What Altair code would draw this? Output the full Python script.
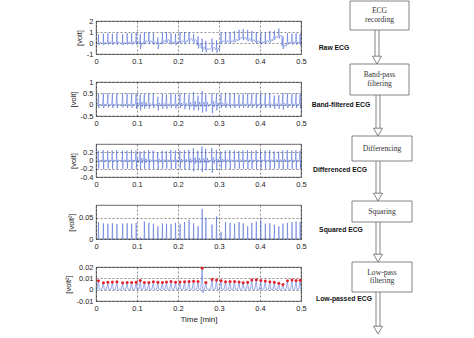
import altair as alt
import pandas as pd

# ---------------- data ----------------
beat_t = [0.006, 0.018, 0.029, 0.040, 0.051, 0.065, 0.076, 0.087, 0.098, 0.108,
          0.118, 0.129, 0.140, 0.151, 0.162, 0.172, 0.183, 0.194, 0.205, 0.216,
          0.227, 0.238, 0.249, 0.259, 0.268, 0.283, 0.294, 0.305, 0.316, 0.327,
          0.338, 0.349, 0.359, 0.370, 0.380, 0.391, 0.402, 0.413, 0.424, 0.435,
          0.446, 0.456, 0.467, 0.478, 0.488, 0.498]

raw_base = [-0.05, -0.05, 0.00, -0.02, 0.00, -0.05, 0.00, 0.00, 0.05, -0.10,
            0.10, 0.10, 0.00, -0.10, 0.10, 0.20, 0.00, 0.00, 0.10, 0.10,
            0.30, 0.20, -0.20, -0.50, -0.60, -0.50, -0.60, 0.10, 0.10, 0.10,
            0.20, 0.40, 0.40, 0.30, 0.20, 0.10, 0.00, 0.10, 0.20, 0.50,
            0.60, -0.30, 0.00, 0.00, 0.00, -0.05]
raw_peak = [0.85, 0.90, 0.90, 0.85, 0.90, 0.85, 0.90, 0.90, 0.90, 0.90,
            0.85, 0.90, 0.90, 0.60, 0.85, 0.80, 0.90, 0.85, 0.90, 0.90,
            0.70, 0.60, 0.80, 0.90, 0.80, 0.90, 0.85, 0.85, 0.90, 0.90,
            0.90, 0.80, 0.85, 0.90, 0.90, 0.90, 0.90, 0.85, 0.90, 0.60,
            0.70, 0.90, 0.90, 0.85, 0.90, 0.90]
raw_trough = [-0.15, -0.15, -0.15, -0.15, -0.15, -0.15, -0.15, -0.15, -0.20, -0.45,
              -0.20, -0.20, -0.15, -0.45, -0.20, -0.20, -0.15, -0.20, -0.15, -0.20,
              -0.25, -0.20, -0.30, -0.30, -0.25, -0.30, -0.30, -0.15, -0.15, -0.15,
              -0.15, -0.15, -0.15, -0.15, -0.15, -0.15, -0.15, -0.15, -0.15, -0.20,
              -0.20, -0.25, -0.15, -0.15, -0.15, -0.15]

bp_peak = [0.48, 0.50, 0.50, 0.48, 0.50, 0.48, 0.50, 0.50, 0.50, 0.45,
           0.48, 0.50, 0.50, 0.35, 0.48, 0.45, 0.50, 0.48, 0.50, 0.50,
           0.45, 0.55, 0.40, 0.60, 0.45, 0.50, 0.48, 0.45, 0.50, 0.50,
           0.50, 0.45, 0.48, 0.50, 0.50, 0.50, 0.50, 0.48, 0.50, 0.40,
           0.42, 0.50, 0.50, 0.48, 0.50, 0.50]
bp_trough = [-0.15, -0.15, -0.12, -0.15, -0.15, -0.12, -0.15, -0.15, -0.18, -0.25,
             -0.18, -0.18, -0.15, -0.25, -0.18, -0.18, -0.15, -0.18, -0.15, -0.20,
             -0.22, -0.25, -0.25, -0.35, -0.30, -0.38, -0.25, -0.15, -0.15, -0.15,
             -0.15, -0.15, -0.15, -0.15, -0.15, -0.15, -0.15, -0.15, -0.15, -0.18,
             -0.18, -0.22, -0.15, -0.15, -0.15, -0.15]
bp_mid = [0.03, 0.03, 0.03, 0.03, 0.03, 0.03, 0.03, 0.03, 0.10, 0.12,
          0.10, 0.05, 0.03, 0.08, 0.05, 0.04, 0.03, 0.04, 0.08, 0.06,
          0.10, 0.15, 0.12, 0.10, 0.12, 0.15, 0.08, 0.08, 0.05, 0.03,
          0.03, 0.04, 0.03, 0.03, 0.03, 0.03, 0.03, 0.03, 0.04, 0.05,
          0.04, 0.06, 0.03, 0.03, 0.03, 0.03]

diff_hi = [0.24, 0.25, 0.24, 0.24, 0.25, 0.24, 0.24, 0.25, 0.24, 0.22,
           0.24, 0.25, 0.24, 0.20, 0.24, 0.23, 0.25, 0.24, 0.24, 0.25,
           0.26, 0.30, 0.24, 0.34, 0.28, 0.30, 0.26, 0.22, 0.24, 0.25,
           0.24, 0.23, 0.24, 0.25, 0.24, 0.25, 0.24, 0.24, 0.25, 0.22,
           0.22, 0.24, 0.25, 0.24, 0.25, 0.24]
diff_lo = [-0.20, -0.21, -0.20, -0.20, -0.21, -0.20, -0.20, -0.21, -0.20, -0.22,
           -0.20, -0.21, -0.20, -0.22, -0.20, -0.20, -0.21, -0.20, -0.20, -0.21,
           -0.22, -0.26, -0.22, -0.28, -0.24, -0.30, -0.22, -0.20, -0.20, -0.21,
           -0.20, -0.20, -0.20, -0.21, -0.20, -0.21, -0.20, -0.20, -0.21, -0.20,
           -0.20, -0.22, -0.21, -0.20, -0.21, -0.20]

sq_peak = [0.040, 0.037, 0.036, 0.037, 0.035, 0.036, 0.037, 0.036, 0.038, 0.004,
           0.041, 0.038, 0.036, 0.030, 0.037, 0.036, 0.035, 0.038, 0.036, 0.040,
           0.045, 0.037, 0.030, 0.071, 0.050, 0.034, 0.053, 0.017, 0.040, 0.038,
           0.036, 0.040, 0.037, 0.030, 0.038, 0.041, 0.044, 0.036, 0.037, 0.034,
           0.030, 0.036, 0.038, 0.040, 0.041, 0.040]

lp_peak = [0.0078, 0.0062, 0.0065, 0.0068, 0.0069, 0.0060, 0.0063, 0.0064, 0.0065, 0.0080,
           0.0064, 0.0063, 0.0070, 0.0066, 0.0063, 0.0068, 0.0072, 0.0066, 0.0068, 0.0070,
           0.0072, 0.0075, 0.0071, 0.0190, 0.0063, 0.0090, 0.0085, 0.0078, 0.0070, 0.0072,
           0.0073, 0.0068, 0.0060, 0.0065, 0.0085, 0.0088, 0.0080, 0.0076, 0.0070, 0.0066,
           0.0056, 0.0045, 0.0078, 0.0085, 0.0080, 0.0082]
lp_low = [0.0003] * 23 + [-0.0030] + [0.0003] * 22

x_ticks = [0, 0.1, 0.2, 0.3, 0.4, 0.5]

box_lines = [["ECG", "recording"], ["Band-pass", "filtering"], ["Differencing"],
             ["Squaring"], ["Low-pass", "filtering"]]
stage_labels = ["Raw ECG", "Band-filtered ECG", "Differenced ECG", "Squared ECG",
                "Low-passed ECG"]

# ---------------- building the traces ----------------
def build(seqs):
    rows = []
    for seq in seqs:
        for t, v in seq:
            rows.append({"t": t, "v": v, "k": len(rows)})
    return pd.DataFrame(rows)

raw_df = build([[(t - 0.0025, b), (t - 0.0008, b + 0.05), (t, b + p), (t + 0.0008, b + q),
                 (t + 0.0025, b), (t + 0.005, b + 0.12), (t + 0.0075, b)]
                for t, b, p, q in zip(beat_t, raw_base, raw_peak, raw_trough)])
bp_df = build([[(t - 0.002, 0), (t, p), (t + 0.0008, q), (t + 0.002, 0),
                (t + 0.004, m), (t + 0.0055, -0.7 * m), (t + 0.007, 0)]
               for t, p, q, m in zip(beat_t, bp_peak, bp_trough, bp_mid)])
diff_df = build([[(t - 0.0015, 0), (t - 0.0005, h), (t + 0.0005, l), (t + 0.0015, 0),
                  (t + 0.004, 0.5 * m), (t + 0.005, -0.5 * m), (t + 0.006, 0)]
                 for t, h, l, m in zip(beat_t, diff_hi, diff_lo, bp_mid)])
sq_df = build([[(t - 0.0008, 0), (t, s), (t + 0.0008, 0)] for t, s in zip(beat_t, sq_peak)])
lp_df = build([[(t - 0.0035, 0.0003), (t, p), (t + 0.002, lo), (t + 0.004, 0.0003)]
               for t, p, lo in zip(beat_t, lp_peak, lp_low)])
dots_df = pd.DataFrame({"t": beat_t, "v": lp_peak})

BLUE = "#3a5bd0"
W = 205


def enc_x(xtitle=None):
    return alt.X("t:Q", scale=alt.Scale(domain=[0, 0.5], nice=False, zero=False),
                 axis=alt.Axis(values=x_ticks, title=xtitle, labelFlush=False,
                               labelOverlap=False, format="~g"))


def enc_y(ydom, yticks, ytitle):
    return alt.Y("v:Q", scale=alt.Scale(domain=ydom, nice=False, zero=False),
                 axis=alt.Axis(values=yticks, title=ytitle, labelOverlap=False,
                               format="~g"))


def panel(df, ydom, yticks, ytitle, xtitle=None):
    return alt.Chart(df).mark_line(color=BLUE, strokeWidth=0.5, clip=True).encode(
        x=enc_x(xtitle), y=enc_y(ydom, yticks, ytitle), order="k:Q")

# ---------------- flow diagram (pixel layout, relative to panel 1 origin) ----------------
OX, OY = 96, 20
box_x = [(350, 409), (350, 409), (352, 412), (352, 412), (352, 412)]
box_y = [(0, 29), (63, 94), (135, 160), (200, 221), (261, 291)]
arrows = [(377, 29, 63), (378, 94, 135), (378, 160, 200), (378, 221, 261), (378, 291, 333)]
label_pos = [(334, 47), (341, 104), (340, 169), (341, 229), (344, 298)]

box_df = pd.DataFrame({"x": [a - OX for a, b in box_x], "x2": [b - OX for a, b in box_x],
                       "y": [a - OY for a, b in box_y], "y2": [b - OY for a, b in box_y]})
btxt = []
for (xa, xb), (ya, yb), lines in zip(box_x, box_y, box_lines):
    cx, cy = (xa + xb) / 2, (ya + yb) / 2
    n = len(lines)
    for j, s in enumerate(lines):
        btxt.append({"x": cx - OX, "y": cy + (j - (n - 1) / 2) * 8.5 - OY, "s": s})
btxt_df = pd.DataFrame(btxt)
shaft_df = pd.DataFrame([{"x": cx + d - OX, "y": y0 - OY, "y2": y1 - 6 - OY}
                         for cx, y0, y1 in arrows for d in (-2, 2)])
head_df = pd.DataFrame([{"x": cx - OX, "y": y1 - 3.9 - OY} for cx, y0, y1 in arrows])
lab_df = pd.DataFrame([{"x": x - OX, "y": y - OY, "s": s} for (x, y), s in zip(label_pos, stage_labels)])

px = lambda f: alt.X(f, scale=None, axis=None)
py = lambda f: alt.Y(f, scale=None, axis=None)

shafts = alt.Chart(shaft_df).mark_rule(color="#666", strokeWidth=0.8).encode(
    x=px("x:Q"), y=py("y:Q"), y2="y2:Q")
heads = alt.Chart(head_df).mark_point(shape="triangle-down", size=81, filled=True,
                                      fill="white", stroke="#666", strokeWidth=0.8,
                                      opacity=1).encode(x=px("x:Q"), y=py("y:Q"))
boxes = alt.Chart(box_df).mark_rect(fill="white", stroke="#666", strokeWidth=0.8).encode(
    x=px("x:Q"), x2="x2:Q", y=py("y:Q"), y2="y2:Q")
box_text = alt.Chart(btxt_df).mark_text(font="Liberation Serif", fontSize=7.6, color="#333",
                                        align="center", baseline="middle").encode(
    x=px("x:Q"), y=py("y:Q"), text="s:N")
labels = alt.Chart(lab_df).mark_text(font="Liberation Sans", fontWeight="bold", fontSize=6.8,
                                     color="#111", align="center", baseline="middle").encode(
    x=px("x:Q"), y=py("y:Q"), text="s:N")

p1 = alt.layer(panel(raw_df, [-1, 2], [-1, 0, 1, 2], "[volt]"),
               shafts, heads, boxes, box_text, labels).resolve_scale(
    x="independent", y="independent").properties(width=W, height=33)
p2 = panel(bp_df, [-0.5, 1], [-0.5, 0, 0.5, 1], "[volt]").properties(width=W, height=34)
p3 = panel(diff_df, [-0.4, 0.4], [-0.4, -0.2, 0, 0.2], "[volt]").properties(width=W, height=33)
p4 = panel(sq_df, [0, 0.08], [0, 0.05], "[volt²]").properties(width=W, height=34)
lp_dom, lp_ticks = [-0.01, 0.02], [-0.01, 0, 0.01, 0.02]
dots = alt.Chart(dots_df).mark_circle(size=9, color="#e3222b", opacity=1).encode(
    x=enc_x("Time [min]"), y=enc_y(lp_dom, lp_ticks, "[volt²]"))
p5 = alt.layer(panel(lp_df, lp_dom, lp_ticks, "[volt²]", xtitle="Time [min]"),
               dots).properties(width=W, height=34)

chart = alt.vconcat(p1, p2, p3, p4, p5, spacing=28, bounds="flush").properties(
    padding={"left": 64, "top": 0, "right": 4, "bottom": 4}
).configure_view(stroke="#444", strokeWidth=0.8).configure_axis(
    labelFont="Liberation Sans", labelFontSize=7.5, labelColor="#222",
    labelExpr="replace(datum.label, '−', '-')",
    titleFont="Liberation Sans", titleFontSize=7.5, titleFontWeight="normal",
    titleColor="#222", titlePadding=3, labelPadding=3,
    grid=True, gridColor="#000", gridDash=[2, 2], gridWidth=0.5, gridOpacity=0.9,
    domain=False, ticks=False, tickSize=0,
).configure_axisX(titleFontSize=8, titlePadding=4)

chart.save("out.html", embed_options={"renderer": "svg", "actions": False})
